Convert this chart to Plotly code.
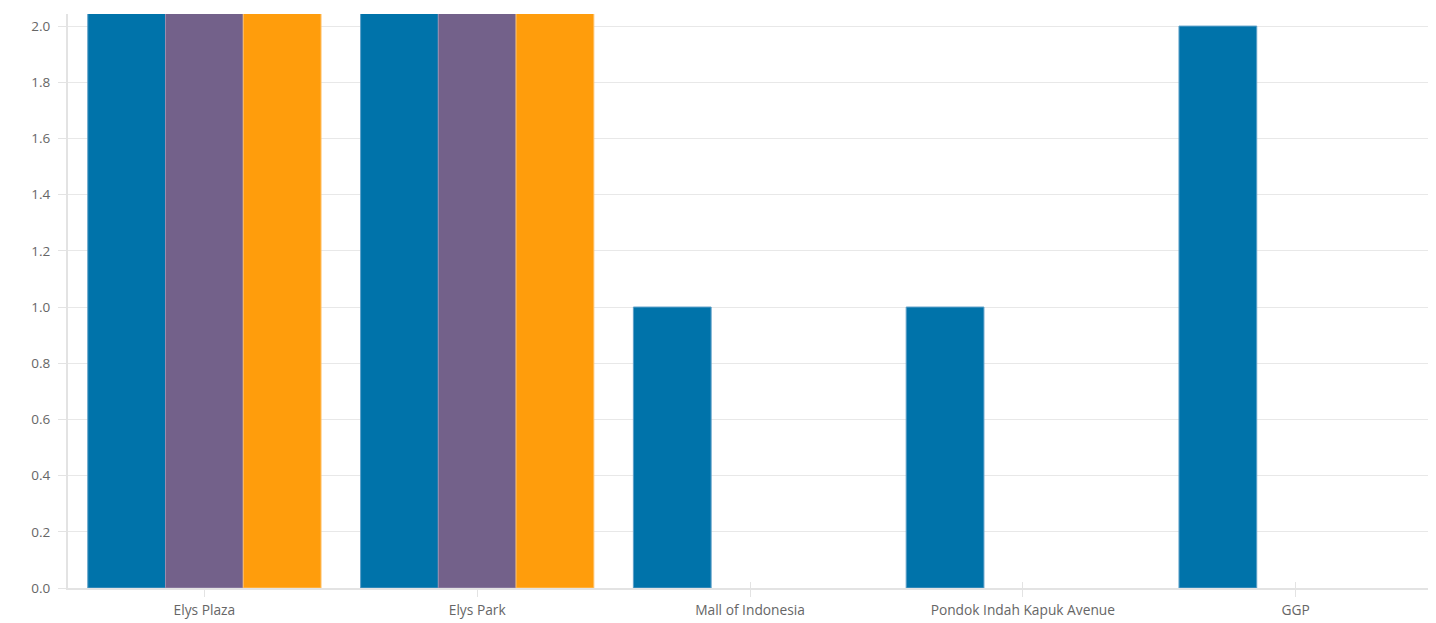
import plotly.graph_objects as go

categories = ["Elys Plaza", "Elys Park", "Mall of Indonesia", "Pondok Indah Kapuk Avenue", "GGP"]
series_a = [3, 3, 1, 1, 2]
series_b = [3, 3, None, None, None]
series_c = [3, 3, None, None, None]
series_names = ["Series A", "Series B", "Series C"]
colors = ["#0073aa", "#73618a", "#ff9d0c"]
edge_colors = ["#5c9fc8", "#9a8cae", "#ffc066"]

fig = go.Figure()
for name, vals, c, e in zip(series_names, [series_a, series_b, series_c], colors, edge_colors):
    fig.add_trace(go.Bar(x=categories, y=vals, name=name,
                         marker=dict(color=c, line=dict(color=e, width=1))))

# empty helper trace so the overlaying axis (labels + outer ticks) is drawn
fig.add_trace(go.Scatter(x=categories, y=[None] * len(categories), xaxis="x2", yaxis="y",
                         mode="markers", hoverinfo="skip", showlegend=False))

fig.update_layout(
    width=1428, height=615,
    barmode="group", bargap=0.145, bargroupgap=0,
    showlegend=False,
    plot_bgcolor="white", paper_bgcolor="white",
    margin=dict(l=60, r=4, t=6, b=35),
    font=dict(family="Open Sans", size=12, color="#6e6e6e"),
    xaxis=dict(type="category", categoryarray=categories,
               showgrid=False, showline=True, linecolor="#e3e3e3", linewidth=2,
               ticks="inside", ticklen=6, tickcolor="#e3e3e3", tickwidth=1,
               showticklabels=False, layer="below traces"),
    xaxis2=dict(overlaying="x", matches="x", type="category", categoryarray=categories,
                showgrid=False, showline=False,
                ticks="outside", ticklen=8, tickcolor="#e3e3e3", tickwidth=1,
                ticklabelstandoff=1,
                tickfont=dict(size=13.75, color="#666666")),
    yaxis=dict(range=[0, 2.043], dtick=0.2, tickformat=".1f",
               showgrid=True, gridcolor="#e8e8e8", gridwidth=1,
               showline=True, linecolor="#e3e3e3", linewidth=2,
               ticks="outside", ticklen=8, tickcolor="#e3e3e3",
               ticklabelstandoff=5,
               zeroline=False, tickfont=dict(size=13.5, color="#666666")),
)
fig.write_html("out.html")
